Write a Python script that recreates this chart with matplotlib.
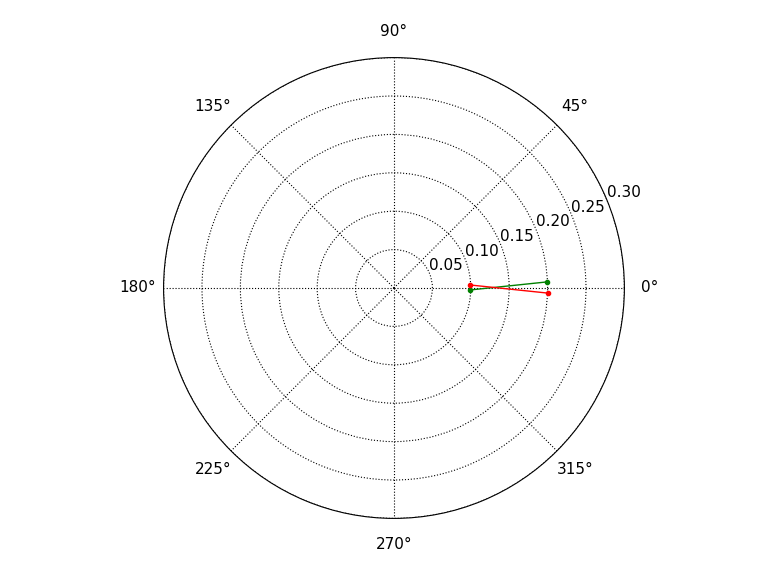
import numpy as np
import matplotlib
matplotlib.use("Agg")
import matplotlib.pyplot as plt

# polar samples (theta in radians, r)
green_theta = [-0.026, 0.040]
green_r = [0.099, 0.200]
red_theta = [0.040, -0.033]
red_r = [0.099, 0.200]

fig = plt.figure(figsize=(7.68, 5.76), dpi=100)
ax = fig.add_axes([0.213, 0.1, 0.6, 0.8], projection="polar")
ax.plot(green_theta, green_r, color="green", marker=".", markersize=6, lw=1)
ax.plot(red_theta, red_r, color="red", marker=".", markersize=6, lw=1)
ax.set_rlim(0, 0.3)
ax.set_rticks([0.05, 0.10, 0.15, 0.20, 0.25, 0.30])
ax.set_yticklabels(["0.05", "0.10", "0.15", "0.20", "0.25", "0.30"])
ax.set_rlabel_position(22.5)
ax.set_thetagrids(range(0, 360, 45), [f"{a}°" for a in range(0, 360, 45)])
ax.grid(True, color="black", linestyle=":", linewidth=0.8)
ax.tick_params(labelsize=11)
ax.tick_params(axis="x", pad=8)
fig.savefig("out.png")
